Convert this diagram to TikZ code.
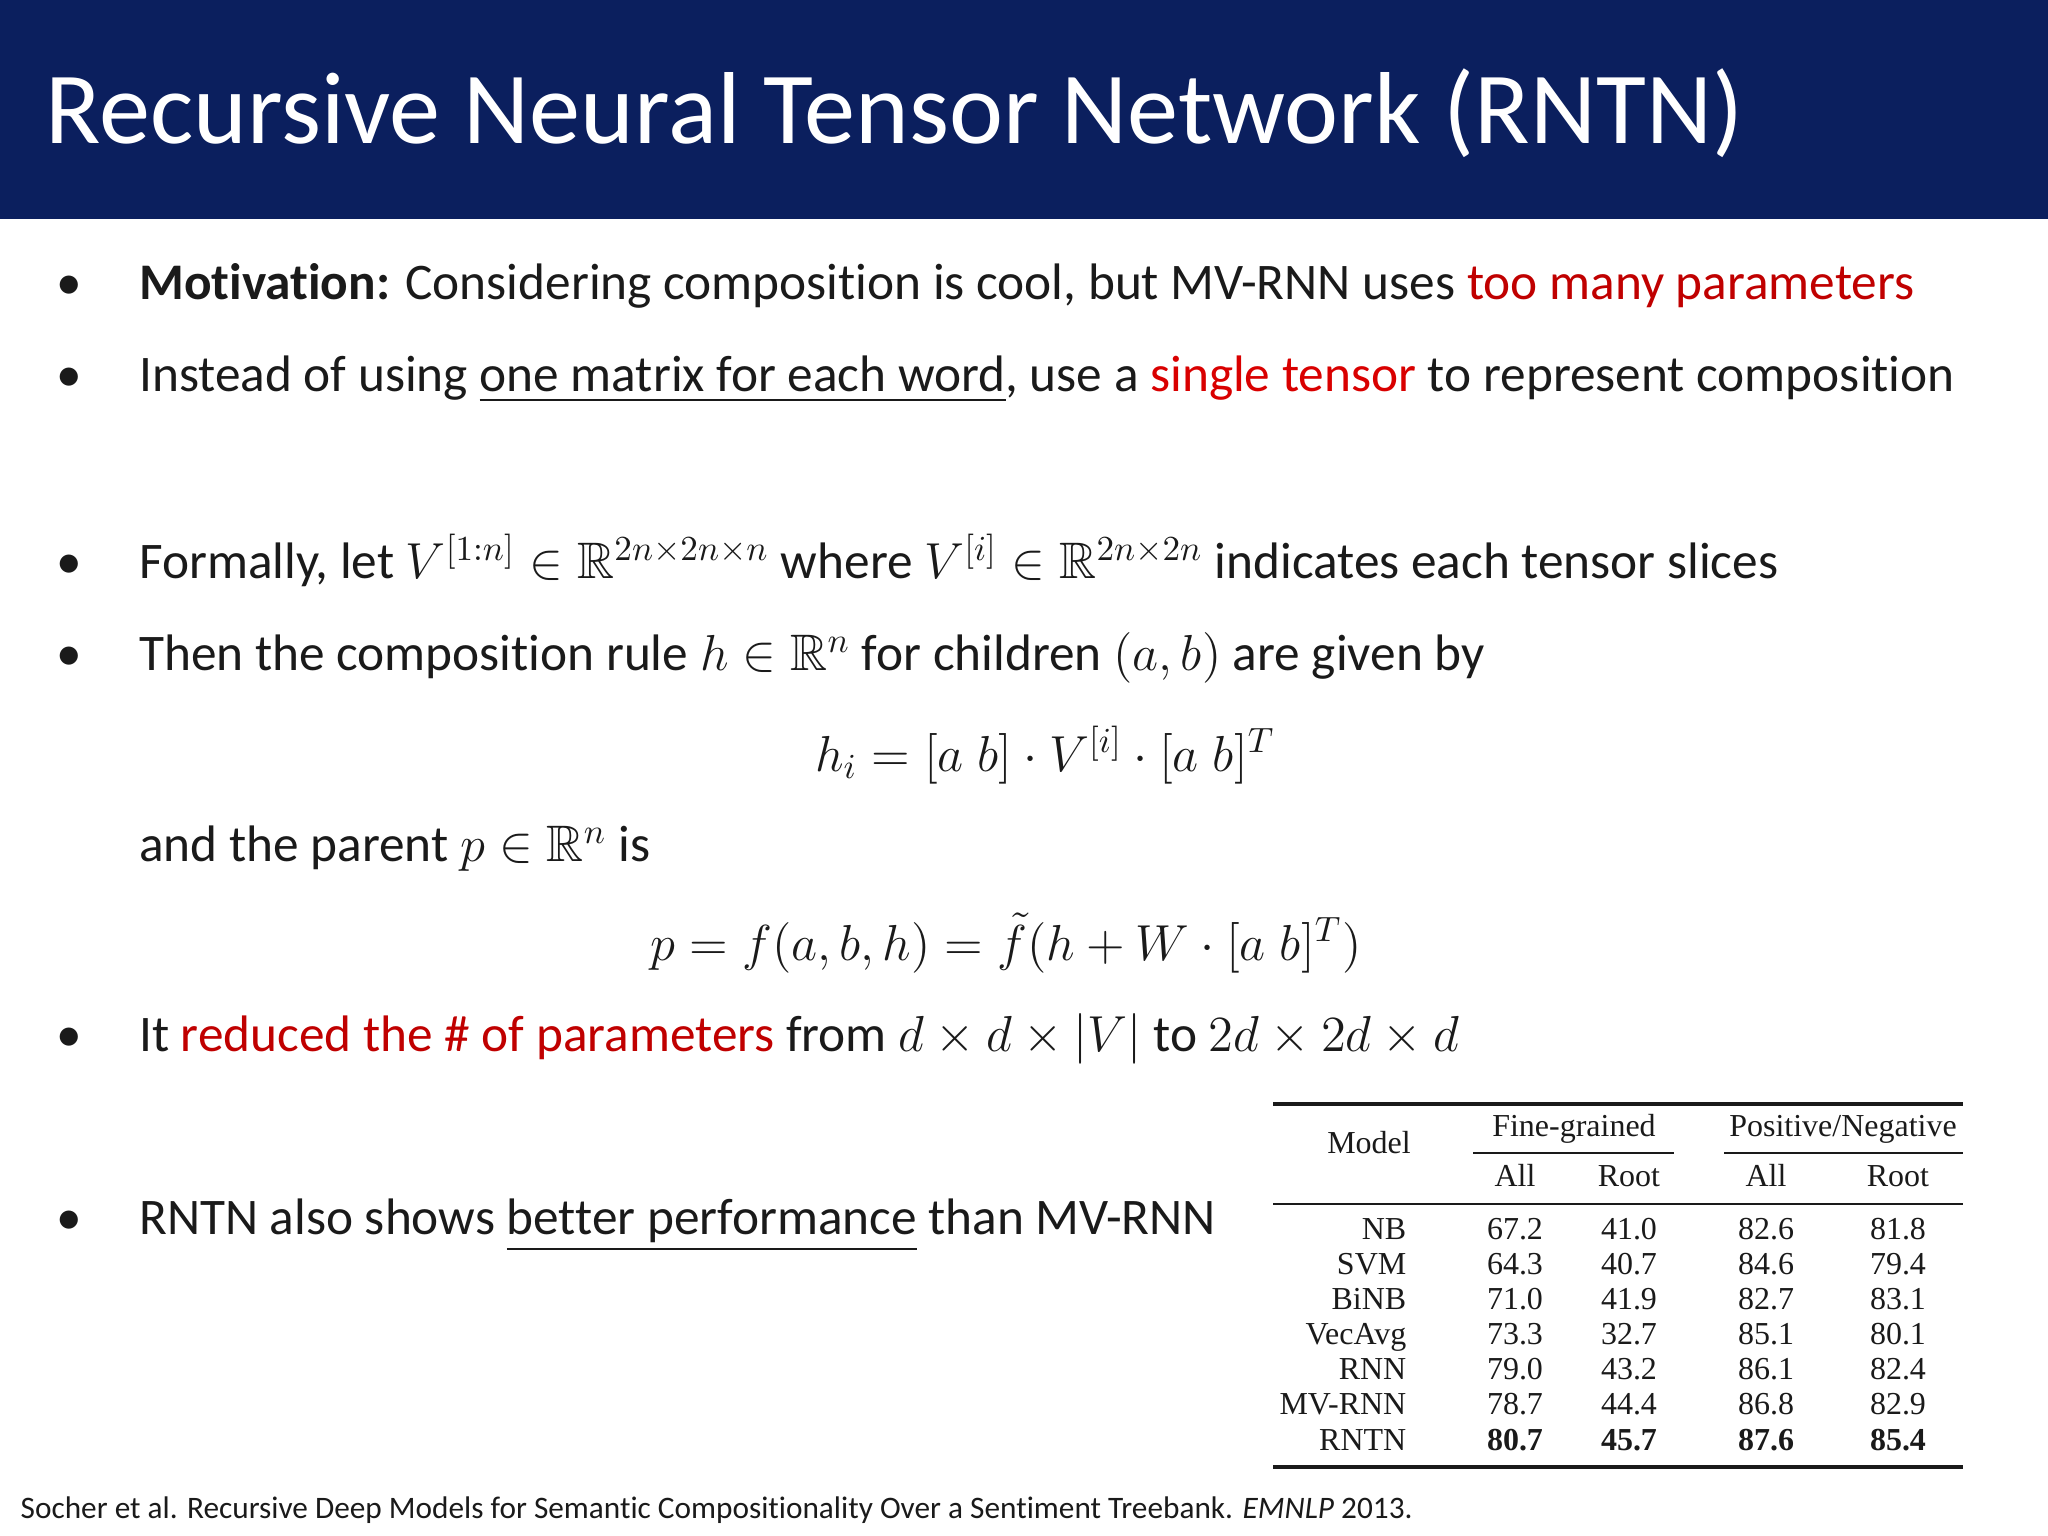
\documentclass[tikz,border=0pt]{standalone}
\usepackage{fontspec}
\usepackage{amsmath,amssymb}
\setmainfont{Carlito}[Ligatures={NoCommon}]
\newfontfamily\tabfont{Liberation Serif}
\definecolor{navy}{HTML}{0B1F5E}
\definecolor{hred}{HTML}{C00000}
\definecolor{txt}{HTML}{1A1A1A}
\begin{document}
\begin{tikzpicture}[x=1cm,y=-1cm,
  body/.style={anchor=base west,inner sep=0pt,text=txt,font=\fontsize{14.6}{17}\selectfont},
  bul/.style={anchor=base,inner sep=0pt,text=txt,font=\fontsize{14.6}{17}\selectfont},
  tb/.style={anchor=base,inner sep=0pt,text=txt,font=\tabfont\fontsize{9.1}{11}\selectfont},
  tbr/.style={tb,anchor=base east},
  rule/.style={line width=1.1pt,draw=txt},
  thin/.style={line width=0.6pt,draw=txt}]
\useasboundingbox (0,0) rectangle (20.48,15.36);
\fill[navy] (0,0) rectangle (20.48,2.19);
\node[anchor=base west,inner sep=0pt,text=white,font=\fontsize{29.1}{34}\selectfont] (title) at (0.45,1.44) {Recursive Neural Tensor Network (RNTN)};
% bullets
\foreach \y/\n in {3.0/b1,3.92/b2,5.79/b3,6.71/b4,10.51/b5,12.34/b6}
  \node[bul] (\n) at (0.69,\y) {\textbullet};
\node[body] (t1) at (1.385,3.0) {\textbf{Motivation:} Considering composition is cool, but MV-RNN uses \textcolor{hred}{too many parameters}};
\node[body] (t2) at (1.385,3.92) {Instead of using \underline{one matrix for each word}, use a \textcolor{red!85!black}{single tensor} to represent composition};
\node[body] (t3) at (1.385,5.79) {Formally, let $V^{[1:n]}\in\mathbb{R}^{2n\times 2n\times n}$ where $V^{[i]}\in\mathbb{R}^{2n\times 2n}$ indicates each tensor slices};
\node[body] (t4) at (1.385,6.71) {Then the composition rule $h\in\mathbb{R}^{n}$ for children $(a,b)$ are given by};
\node[body,anchor=base] (e1) at (10.45,7.71) {$h_i=[a\;b]\cdot V^{[i]}\cdot[a\;b]^T$};
\node[body] (t5) at (1.385,8.62) {and the parent $p\in\mathbb{R}^{n}$ is};
\node[body,anchor=base] (e2) at (10.06,9.6) {$p=f(a,b,h)=\tilde f(h+W\cdot[a\;b]^T)$};
\node[body] (t6) at (1.385,10.51) {It \textcolor{hred}{reduced the \# of parameters} from $d\times d\times|V|$ to $2d\times 2d\times d$};
\node[body] (t7) at (1.385,12.34) {RNTN also shows \underline{better performance} than MV-RNN};
\node[anchor=base west,inner sep=0pt,text=txt,font=\fontsize{8.9}{11}\selectfont] (fn) at (0.2,15.18) {Socher et al. Recursive Deep Models for Semantic Compositionality Over a Sentiment Treebank. \textit{EMNLP} 2013.};
% table
\draw[rule] (12.73,11.04) -- (19.63,11.04);
\draw[thin] (12.73,12.04) -- (19.63,12.04);
\draw[rule] (12.73,14.67) -- (19.63,14.67);
\draw[thin] (14.73,11.53) -- (16.74,11.53);
\draw[thin] (17.24,11.53) -- (19.63,11.53);
\node[tb] (hm) at (13.69,11.53) {Model};
\node[tb] (hf) at (15.74,11.36) {Fine-grained};
\node[tb] (hp) at (18.43,11.36) {Positive/Negative};
\foreach \x/\s in {15.15/All,16.29/Root,17.66/All,18.98/Root}
  \node[tb] at (\x,11.86) {\s};
\foreach \m/\a/\b/\c/\d [count=\i] in {NB/67.2/41.0/82.6/81.8, SVM/64.3/40.7/84.6/79.4, BiNB/71.0/41.9/82.7/83.1, VecAvg/73.3/32.7/85.1/80.1, RNN/79.0/43.2/86.1/82.4, MV-RNN/78.7/44.4/86.8/82.9}{
  \pgfmathsetmacro{\yy}{12.39+(\i-1)*0.351}
  \node[tbr] (m\i) at (14.07,\yy) {\m};
  \node[tb] at (15.15,\yy) {\a};
  \node[tb] at (16.29,\yy) {\b};
  \node[tb] at (17.66,\yy) {\c};
  \node[tb] at (18.98,\yy) {\d};
}
\node[tbr] (m7) at (14.07,14.50) {RNTN};
\node[tb] at (15.15,14.50) {\textbf{80.7}};
\node[tb] at (16.29,14.50) {\textbf{45.7}};
\node[tb] at (17.66,14.50) {\textbf{87.6}};
\node[tb] at (18.98,14.50) {\textbf{85.4}};
\end{tikzpicture}
\end{document}
